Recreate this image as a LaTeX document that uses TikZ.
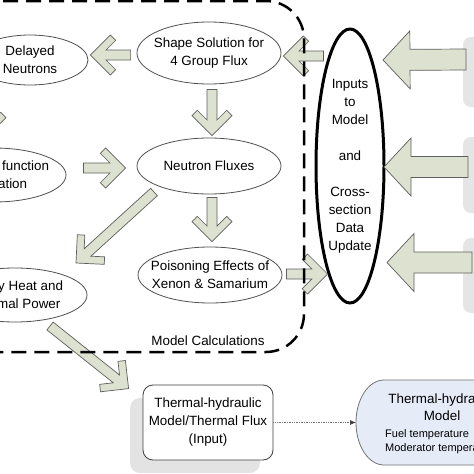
\documentclass[tikz,border=0pt]{standalone}
\usepackage{fontspec}
\setmainfont{Liberation Sans}
\usetikzlibrary{shapes.geometric,calc,arrows.meta}
\definecolor{arrfill}{RGB}{221,225,207}
\definecolor{arrline}{RGB}{95,95,95}
\definecolor{ellline}{RGB}{80,80,80}
\definecolor{thblue}{RGB}{229,236,248}
% chevron block arrow: #1 tail coordinate, #2 tip coordinate
\newcommand\chevarrow[2]{%
 \filldraw[chev] (#2)
 -- ($(#2)!20pt!(#1)+(#2)!20pt!90:(#1)-(#2)$)
 -- ($(#2)!25.3pt!(#1)+(#2)!14.7pt!90:(#1)-(#2)$)
 -- ($(#2)!15.6pt!(#1)+(#2)!5pt!90:(#1)-(#2)$)
 -- ($(#1)!5pt!-90:(#2)$)
 -- ($(#1)!5pt!90:(#2)$)
 -- ($(#2)!15.6pt!(#1)+(#2)!5pt!-90:(#1)-(#2)$)
 -- ($(#2)!25.3pt!(#1)+(#2)!14.7pt!-90:(#1)-(#2)$)
 -- ($(#2)!20pt!(#1)+(#2)!20pt!-90:(#1)-(#2)$)
 -- cycle;}
% big solid block arrow: #1 tail, #2 tip
\newcommand\bigblockarrow[2]{%
 \filldraw[chev] (#2)
 -- ($(#2)!27pt!(#1)+(#2)!29pt!90:(#1)-(#2)$)
 -- ($(#2)!27pt!(#1)+(#2)!10.5pt!90:(#1)-(#2)$)
 -- ($(#1)!10.5pt!-90:(#2)$)
 -- ($(#1)!10.5pt!90:(#2)$)
 -- ($(#2)!27pt!(#1)+(#2)!10.5pt!-90:(#1)-(#2)$)
 -- ($(#2)!27pt!(#1)+(#2)!29pt!-90:(#1)-(#2)$)
 -- cycle;}
\begin{document}
\begin{tikzpicture}[x=1pt,y=-1pt,font=\fontsize{13.4}{18}\selectfont,
  chev/.style={fill=arrfill,draw=arrline,line width=0.7pt,line join=miter},
  ell/.style={ellipse,draw=ellline,line width=0.8pt,minimum width=144pt,minimum height=#1,inner sep=0pt},
  txt/.style={align=center}]
\useasboundingbox (0,0) rectangle (474,474);
\clip (0,0) rectangle (474,474);
\fill[white] (0,0) rectangle (474,474);

% shadows of boxes at the right
\fill[black!10,rounded corners=8pt] (463,37) rectangle (530,107);
\fill[black!10,rounded corners=8pt] (463,137) rectangle (530,213);
\fill[black!10,rounded corners=8pt] (463,238) rectangle (530,313);

% ellipses
\node[ell=50pt,minimum width=116pt,label={[txt]center:Delayed\\Neutrons}] (delayed) at (30,60) {};
\node[ell=62pt,label={[txt]center:Shape Solution for\\4 Group Flux}] (shape) at (209,53) {};
\node[ell=54pt,label={[txt]center:Amplitude function\\Calculation}] (amp) at (-6,175) {};
\node[ell=56pt,label={[txt]center:Neutron Fluxes}] (flux) at (209,166) {};
\node[ell=54pt,label={[txt]center:Decay Heat and\\Thermal Power}] (decay) at (15,295) {};
\node[ell=56pt,label={[txt]center:Poisoning Effects of\\Xenon \& Samarium}] (poison) at (210,275) {};

\node[ellipse,draw=black,line width=3pt,minimum width=68pt,minimum height=274pt,inner sep=0pt,align=center] (inputs) at (350,166)
  {Inputs\\to\\Model\\[18pt]and\\[18pt]Cross-\\section\\Data\\Update};

% thermal-hydraulic input box
\fill[black!11,rounded corners=10pt] (130,398) rectangle (260,473);
\node[draw=black!75,fill=white,rounded corners=10pt,line width=0.8pt,minimum width=130pt,minimum height=75pt,inner sep=1pt,align=center] (thbox) at (208,422.5)
  {Thermal-hydraulic\\Model/Thermal Flux\\(Input)};

% thermal-hydraulic model shape
\filldraw[fill=thblue,draw=black!55,line width=0.8pt] (530,380) -- (384,380)
  arc[start angle=90,end angle=270,x radius=28pt,y radius=42.5pt] -- (530,465) -- cycle;
\coordinate (thmodelW) at (356,422.5);
\node[txt] (thmodel) at (442,407) {Thermal-hydraulic\\[-1pt]Model};
\node[align=left,font=\fontsize{11}{14}\selectfont,anchor=west,inner sep=0pt] (thvars) at (385,442) {Fuel temperature\\Moderator temperature};

\draw[densely dotted,draw=black!55,line width=0.7pt,-{Latex[length=6pt,width=5pt,color=black!75]}] (thbox.east) -- (thmodelW);

% chevron arrow end points
\coordinate (c1s) at ($(shape.west)+(-6,2)$);
\coordinate (c1t) at ($(delayed.east)+(2,-5)$);
\coordinate (c2s) at ($(inputs.west)+(9,-110)$);
\coordinate (c2t) at ($(shape.east)+(2,3)$);
\coordinate (c3s) at ($(shape.south)+(3,5)$);
\coordinate (c3t) at ($(flux.north)+(3,-2)$);
\coordinate (c4s) at ($(delayed.south)+(-44,6)$);
\coordinate (c4t) at ($(amp.north)+(-8,-10)$);
\coordinate (c5s) at ($(amp.east)+(17,-7)$);
\coordinate (c5t) at ($(flux.west)+(-11,2)$);
\coordinate (c6s) at ($(flux.south)+(3,3)$);
\coordinate (c6t) at ($(poison.north)+(2,-5)$);
\coordinate (c7s) at ($(flux)+(-55,26)$);
\coordinate (c7t) at ($(decay)+(61,-32)$);
\coordinate (c8s) at ($(poison.east)+(4,-1)$);
\coordinate (c8t) at ($(inputs.west)+(13,108)$);
\coordinate (c9s) at ($(decay)+(35,31)$);
\coordinate (c9t) at ($(thbox.north west)+(-14,4)$);

\chevarrow{c1s}{c1t}
\chevarrow{c2s}{c2t}
\chevarrow{c3s}{c3t}
\chevarrow{c4s}{c4t}
\chevarrow{c5s}{c5t}
\chevarrow{c6s}{c6t}
\chevarrow{c7s}{c7t}
\chevarrow{c8s}{c8t}
\chevarrow{c9s}{c9t}

% big input arrows
\coordinate (in1) at (466,59.5);
\coordinate (in2) at (468,167);
\coordinate (in3) at (472,262.5);
\coordinate (b1t) at ($(inputs)+(33,-106)$);
\coordinate (b2t) at ($(inputs)+(34,1)$);
\coordinate (b3t) at ($(inputs)+(37,96.5)$);
\bigblockarrow{in1}{b1t}
\bigblockarrow{in2}{b2t}
\bigblockarrow{in3}{b3t}

% dashed frame of the model calculations
\draw[line width=2.5pt,dash pattern=on 15pt off 8pt,rounded corners=38pt] (-20,1) -- (304,1) -- (304,352) -- (-20,352);
\node[anchor=base] (mclabel) at (208,345) {Model Calculations};
\end{tikzpicture}
\end{document}
